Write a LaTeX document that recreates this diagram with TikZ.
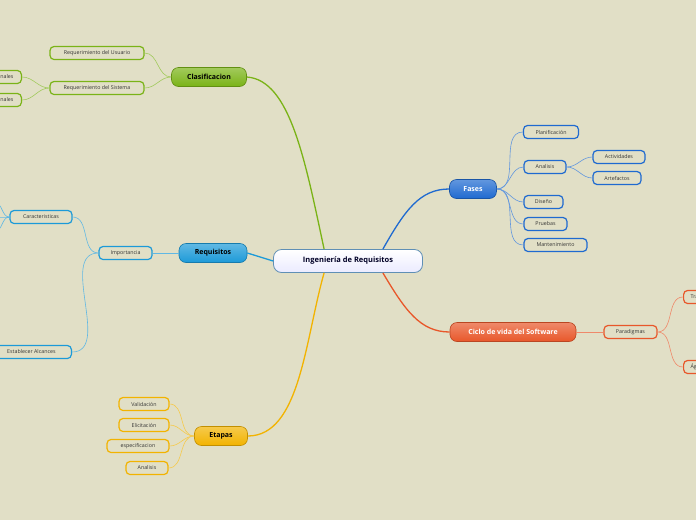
\documentclass[tikz,border=0pt]{standalone}
\usepackage{fontspec}
\setmainfont{Open Sans}
\begin{document}
\begin{tikzpicture}[x=1pt,y=-1pt,
 leaf/.style={draw=#1,line width=1.2pt,rounded corners=4pt,fill=bgc,minimum height=13pt,inner sep=2pt,font=\fontsize{5.3}{6}\selectfont,text=black!80},
 main/.style={draw=#1!80!black,line width=0.6pt,rounded corners=7pt,top color=#1!70!white,bottom color=#1,minimum height=19pt,font=\bfseries\fontsize{7}{8}\selectfont,inner sep=3pt},
 con/.style={draw=#1!70!white,line width=0.6pt},
 mcon/.style={draw=#1,line width=1.3pt}]
\definecolor{bgc}{HTML}{E1DFC6}
\definecolor{gr}{HTML}{7AB317}
\definecolor{bl}{HTML}{1F6AD0}
\definecolor{lb}{HTML}{1C9AD8}
\definecolor{ora}{HTML}{E8572A}
\definecolor{yel}{HTML}{F2B300}
\definecolor{cb}{HTML}{5F8FB5}
\fill[bgc] (0,0) rectangle (696,520);
\useasboundingbox (0,0) rectangle (696,520);
% central
\node[draw=cb,line width=0.8pt,rounded corners=8pt,top color=white,bottom color=blue!8,minimum width=149pt,minimum height=23pt,font=\bfseries\fontsize{7.5}{9}\selectfont,text=black!85!blue] (c) at (348,261) {Ingeniería de Requisitos};
% main nodes
\node[main=gr,minimum width=75pt] (cl) at (209,77) {Clasificacion};
\node[main=bl,minimum width=47pt,text=white] (fa) at (473,189) {Fases};
\node[main=ora,minimum width=126pt,text=white] (ci) at (513,332) {Ciclo de vida del Software};
\node[main=lb,minimum width=68pt] (rq) at (213,253) {Requisitos};
\node[main=yel,minimum width=53pt] (et) at (221,436) {Etapas};
% main connectors
\draw[mcon=gr] (c.north west)+(51,0) coordinate (a1) (a1) .. controls (305,160) and (290,80) .. (cl.east);
\draw[mcon=bl] (c.north east)+(-40,0) coordinate (a2) (a2) .. controls (405,210) and (420,189) .. (fa.west);
\draw[mcon=ora] (c.south east)+(-40,0) coordinate (a3) (a3) .. controls (405,310) and (420,332) .. (ci.west);
\draw[mcon=lb] (c.west) -- (rq.east);
\draw[mcon=yel] (c.south west)+(51,0) coordinate (a4) (a4) .. controls (305,340) and (300,436) .. (et.east);
% Clasificacion
\node[leaf=gr,minimum width=94pt] (ru) at (97,53) {Requerimiento del Usuario};
\node[leaf=gr,minimum width=94pt] (rs) at (97,88) {Requerimiento del Sistema};
\node[leaf=gr,anchor=east,text width=56pt,align=right] (f1) at (22,77) {Funcionales\hspace*{6pt}};
\node[leaf=gr,anchor=east,text width=56pt,align=right] (f2) at (22,100) {No Funcionales\hspace*{6pt}};
\foreach \n in {ru,rs} \draw[con=gr] (cl.west) to[out=180,in=0] (\n.east);
\foreach \n in {f1,f2} \draw[con=gr] (rs.west) to[out=180,in=0] (\n.east);
% Fases
\node[leaf=bl,minimum width=55pt] (p1) at (551,132) {Planificación};
\node[leaf=bl,minimum width=42pt] (p2) at (545,167) {Analisis};
\node[leaf=bl,minimum width=52pt] (p3) at (619,157) {Actividades};
\node[leaf=bl,minimum width=48pt] (p4) at (617,178) {Artefactos};
\node[leaf=bl,minimum width=39pt] (p5) at (543.5,202) {Diseño};
\node[leaf=bl,minimum width=43pt] (p6) at (545.5,224) {Pruebas};
\node[leaf=bl,minimum width=63pt] (p7) at (555.5,245) {Mantenimiento};
\foreach \n in {p1,p2,p5,p6,p7} \draw[con=bl] (fa.east) to[out=0,in=180] (\n.west);
\foreach \n in {p3,p4} \draw[con=bl] (p2.east) to[out=0,in=180] (\n.west);
% Ciclo
\node[leaf=ora,minimum width=53pt] (pa) at (630.5,332) {Paradigmas};
\node[leaf=ora,anchor=west,text width=56pt,align=left] (t1) at (683,297) {\hspace*{5pt}Tradicionales};
\node[leaf=ora,anchor=west,text width=56pt,align=left] (t2) at (683,367) {\hspace*{5pt}Ágiles};
\draw[con=ora] (ci.east) -- (pa.west);
\foreach \n in {t1,t2} \draw[con=ora] (pa.east) to[out=0,in=180] (\n.west);
% Requisitos
\node[leaf=lb,minimum width=53pt] (im) at (125.5,253) {Importancia};
\node[leaf=lb,minimum width=62pt] (ca) at (41,217) {Caracteristicas};
\node[leaf=lb,anchor=east,minimum width=80pt] (ea) at (72,352) {Establecer Alcances};
\draw[con=lb] (rq.west) -- (im.east);
\foreach \n in {ca,ea} \draw[con=lb] (im.west) to[out=180,in=0] (\n.east);
\coordinate (e1) at (-5,203); \coordinate (e2) at (-5,217); \coordinate (e3) at (-5,231);
\foreach \n in {e1,e2,e3} \draw[con=lb] (ca.west) to[out=180,in=0] (\n);
% Etapas
\node[leaf=yel,minimum width=50pt] (v1) at (144,404) {Validación};
\node[leaf=yel,minimum width=50pt] (v2) at (144,425) {Elicitación};
\node[leaf=yel,minimum width=62pt] (v3) at (138,446) {especificacion};
\node[leaf=yel,minimum width=42pt] (v4) at (147,468) {Analisis};
\foreach \n in {v1,v2,v3,v4} \draw[con=yel] (et.west) to[out=180,in=0] (\n.east);
\end{tikzpicture}
\end{document}
